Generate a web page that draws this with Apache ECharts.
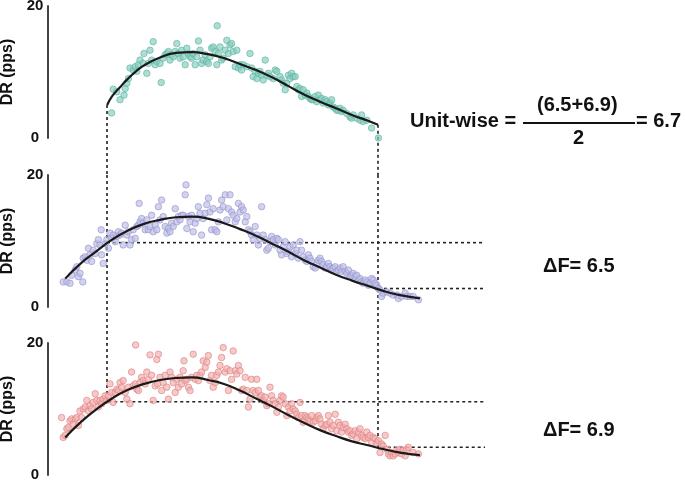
<!DOCTYPE html>
<html>
<head>
<meta charset="utf-8">
<script src="https://cdn.jsdelivr.net/npm/echarts@6/dist/echarts.min.js"></script>
<style>
  html, body { margin: 0; padding: 0; background: #fff; }
  #main { width: 685px; height: 484px; }
</style>
</head>
<body>
<div id="main"></div>
<script>
// discharge rate (pps) vs time, three panels: pooled unit (top), trial 1, trial 2
const dr1Points = [
  [15.9,3.8],[16.3,7.4],[17.2,7.0],[18.0,5.8],[19.0,6.5],[19.3,7.5],[19.7,8.3],[20.1,9.0],[20.5,10.6],[21.3,10.3],
  [21.8,10.8],[22.2,10.1],[22.6,11.1],[23.0,11.8],[23.8,11.3],[24.0,12.8],[24.7,9.8],[25.1,11.3],[25.5,13.3],[25.9,11.8],
  [26.3,14.6],[26.8,11.1],[27.2,11.6],[28.0,11.3],[28.3,8.4],[28.8,12.1],[29.3,12.6],[29.7,12.8],[30.1,13.1],[30.5,11.8],
  [30.9,12.6],[31.3,12.3],[31.8,13.1],[32.2,14.3],[32.6,12.8],[33.0,12.1],[33.4,13.3],[33.8,12.3],[34.3,11.1],[34.7,13.6],
  [35.1,12.8],[35.5,12.3],[35.9,12.1],[36.3,12.8],[36.8,11.1],[37.2,12.3],[37.6,14.7],[38.0,13.3],[38.4,11.3],[38.8,11.8],
  [39.3,12.6],[39.7,11.6],[40.1,11.3],[40.5,12.3],[40.9,13.6],[41.3,13.8],[41.8,13.1],[42.2,11.1],[42.3,17.0],[42.6,12.8],
  [43.0,13.8],[43.4,11.8],[43.8,12.1],[44.3,13.3],[44.7,14.8],[45.1,12.8],[45.5,14.1],[45.9,14.3],[46.3,13.1],[46.8,10.8],
  [47.2,13.3],[47.6,10.6],[48.0,11.1],[48.4,10.3],[48.8,11.1],[49.7,10.8],[50.5,12.8],[50.9,10.6],[51.3,9.3],[51.8,10.1],
  [52.2,9.0],[52.6,9.8],[53.0,10.1],[53.4,9.5],[53.8,8.8],[54.3,11.8],[54.7,9.5],[55.1,9.8],[55.5,9.3],[56.3,9.0],
  [56.8,10.3],[57.2,10.1],[58.0,9.3],[58.4,8.8],[58.8,8.3],[59.3,7.3],[59.7,8.3],[60.1,9.5],[60.5,9.0],[60.9,9.8],
  [61.3,9.3],[61.8,9.3],[62.2,7.8],[62.6,7.3],[63.0,7.5],[63.4,6.3],[63.8,7.3],[64.3,6.5],[64.7,6.8],[65.1,6.3],
  [65.5,6.0],[65.9,5.8],[66.3,5.8],[66.8,6.3],[67.2,5.5],[67.6,6.5],[68.0,5.8],[68.4,6.0],[68.8,5.3],[69.3,5.8],
  [69.7,5.5],[70.1,5.0],[70.5,5.3],[70.9,5.8],[71.3,4.7],[71.8,4.5],[72.2,4.2],[72.6,4.2],[73.0,4.5],[73.4,4.0],
  [73.8,4.2],[74.7,3.7],[75.5,3.2],[75.9,3.0],[76.3,3.5],[77.2,3.0],[78.0,2.7],[78.4,3.5],[78.8,2.5],[79.7,2.7],
  [80.9,1.5],[82.6,0.0]
];
const dr1Fit = [
  [14.8,5.0],[16,6.3],[18,7.7],[20,9.0],[22,10.1],[24,11.0],[28,12.2],[32,12.9],[36,13.0],[40,12.7],
  [44,12.1],[48,11.2],[52,10.3],[56,9.2],[60,7.9],[64,6.6],[68,5.5],[72,4.5],[76,3.5],[80,2.6],[82.5,2.0]
];

const dr2Points = [
  [3.8,3.8],[4.7,3.8],[5.5,3.6],[5.9,4.8],[6.8,5.6],[7.2,6.1],[7.6,4.6],[8.0,5.1],[8.7,3.8],[8.8,7.4],
  [9.3,7.6],[9.7,7.1],[10.1,8.9],[10.5,7.9],[10.9,6.9],[11.3,8.6],[11.8,8.1],[12.2,9.6],[12.6,10.2],[13.0,9.4],
  [13.3,11.7],[13.4,7.9],[13.8,6.6],[14.3,9.6],[14.7,10.2],[15.1,8.9],[15.5,11.2],[15.9,10.4],[16.3,10.9],[16.8,9.9],
  [17.2,10.7],[17.6,11.4],[18.0,10.9],[18.4,11.2],[18.8,9.4],[19.3,12.4],[19.7,10.9],[20.1,11.4],[20.5,9.4],[20.9,10.2],
  [21.3,11.7],[21.8,10.4],[22.2,12.2],[22.6,12.4],[22.8,15.7],[23.0,12.9],[23.4,13.4],[23.8,12.7],[24.3,11.7],[24.7,13.2],
  [25.1,11.7],[25.5,12.2],[25.9,13.9],[26.3,11.4],[26.8,12.4],[27.2,11.7],[27.6,15.2],[28.0,13.2],[28.4,16.2],[28.8,13.7],
  [29.3,12.2],[29.7,11.2],[30.1,11.9],[30.5,11.4],[30.9,12.7],[31.3,12.2],[31.8,14.9],[32.2,12.9],[32.6,13.7],[33.0,13.2],
  [33.4,13.9],[33.8,13.9],[34.3,17.0],[34.5,18.5],[34.7,11.9],[35.1,13.7],[35.5,12.9],[35.9,13.9],[36.3,11.4],[36.8,12.7],
  [37.2,13.4],[37.6,15.2],[38.0,14.2],[38.4,10.9],[38.8,13.4],[39.3,14.2],[39.7,15.5],[40.1,16.5],[40.5,14.4],[40.9,11.7],
  [41.3,14.9],[41.8,11.7],[42.2,11.4],[42.6,12.9],[43.0,14.7],[43.4,16.2],[43.8,15.2],[44.3,17.0],[44.7,13.2],[45.1,14.9],
  [45.5,17.0],[45.9,14.4],[46.3,13.9],[46.8,12.9],[47.2,13.4],[47.6,15.7],[48.0,14.4],[48.4,15.2],[48.8,14.7],[49.3,12.9],
  [49.7,13.7],[50.1,11.7],[50.5,11.4],[50.9,10.9],[51.3,10.2],[51.8,12.2],[52.2,10.9],[52.6,9.4],[53.0,10.4],[53.4,15.2],
  [53.8,10.9],[54.3,10.2],[54.7,8.6],[55.1,8.9],[55.5,9.9],[55.9,10.7],[56.3,10.2],[56.8,9.4],[57.2,10.4],[57.6,10.2],
  [58.0,8.6],[58.4,7.9],[58.8,9.1],[59.3,9.9],[59.7,8.1],[60.1,8.4],[60.5,9.1],[60.9,7.6],[61.3,9.4],[61.8,8.1],
  [62.2,8.6],[62.6,7.4],[63.0,9.9],[63.4,8.6],[63.8,7.6],[64.3,7.1],[64.7,6.9],[65.1,7.9],[65.5,7.4],[65.9,6.9],
  [66.3,6.1],[66.8,5.9],[67.2,6.6],[67.6,7.1],[68.0,7.4],[68.4,6.9],[68.8,6.4],[69.3,5.9],[69.7,6.1],[70.1,6.6],
  [70.5,6.1],[70.9,5.6],[71.3,5.9],[71.8,6.1],[72.2,5.4],[72.6,5.6],[73.0,5.9],[73.4,5.4],[73.8,6.1],[74.3,5.4],
  [74.7,5.1],[75.1,5.6],[75.5,4.6],[75.9,4.8],[76.3,5.1],[76.8,4.6],[77.2,4.8],[77.6,4.1],[78.0,4.3],[78.4,3.8],
  [78.8,3.6],[79.3,4.1],[79.7,3.8],[80.1,3.3],[80.5,3.6],[80.9,4.3],[81.3,4.1],[81.8,3.6],[82.2,3.3],[82.6,2.8],
  [83.0,2.6],[83.4,1.6],[83.8,2.1],[84.7,2.3],[85.5,2.1],[86.3,1.8],[87.2,1.8],[87.6,1.3],[88.4,1.6],[89.3,2.1],
  [89.7,1.6],[90.5,1.6],[91.3,1.6],[92.6,1.1]
];
const dr2Fit = [
  [4.3,4.3],[8,6.5],[12,8.4],[16,10.2],[20,11.6],[24,12.6],[28,13.2],[32,13.6],[36,13.7],[40,13.4],
  [44,12.7],[48,11.8],[52,10.8],[56,9.6],[60,8.4],[64,7.1],[68,6.0],[72,4.9],[76,4.0],[80,3.2],
  [84,2.4],[88,1.8],[93,1.3]
];

const dr3Points = [
  [3.4,8.7],[3.8,5.7],[4.3,6.0],[4.7,7.0],[5.1,7.2],[5.5,8.2],[5.9,8.5],[6.3,7.7],[6.8,8.5],[7.2,8.7],
  [7.6,7.5],[8.0,9.7],[8.4,8.7],[8.8,10.0],[9.3,10.3],[9.7,11.3],[10.1,9.7],[10.5,10.5],[10.9,10.0],[11.3,11.0],
  [11.8,12.3],[12.2,11.3],[12.6,10.3],[13.0,11.3],[13.4,10.8],[13.8,11.5],[14.3,12.0],[14.7,11.3],[15.1,12.0],[15.5,13.8],
  [15.9,12.5],[16.3,11.0],[16.8,12.5],[17.2,13.0],[17.6,12.8],[18.0,14.0],[18.4,13.3],[18.8,14.3],[19.3,12.5],[19.7,11.5],
  [20.1,13.3],[20.5,10.8],[20.9,15.6],[21.3,13.5],[21.8,13.8],[21.9,19.7],[22.2,13.0],[22.6,12.8],[23.0,14.0],[23.4,14.8],
  [23.8,14.3],[24.3,13.8],[24.7,15.6],[25.1,14.5],[25.5,18.2],[25.9,15.1],[26.3,11.3],[26.8,13.5],[27.2,17.5],[27.4,13.8],
  [27.6,18.3],[28.0,14.8],[28.4,12.8],[28.8,14.0],[29.3,15.1],[29.7,13.3],[30.1,11.5],[30.5,15.6],[30.9,14.8],[31.3,14.0],
  [31.8,12.5],[32.2,14.5],[32.6,13.3],[33.0,14.8],[33.4,13.8],[33.8,15.8],[34.0,17.3],[34.3,14.3],[34.7,14.5],[35.1,13.3],
  [35.5,12.8],[35.9,14.8],[36.3,18.3],[36.8,14.5],[37.2,15.1],[37.6,14.3],[38.0,15.1],[38.4,15.6],[38.8,17.3],[39.3,16.3],
  [39.7,17.1],[40.1,18.1],[40.5,14.3],[40.9,15.1],[41.3,13.3],[41.8,14.0],[42.2,15.1],[42.6,15.6],[43.0,16.6],[43.4,17.8],
  [43.8,19.3],[44.3,15.6],[44.7,16.1],[45.1,12.8],[45.5,15.8],[45.9,14.5],[46.3,18.8],[46.8,15.8],[47.2,15.3],[47.6,16.6],
  [48.0,15.8],[48.4,12.8],[48.8,13.0],[49.3,14.8],[49.7,12.8],[50.1,10.3],[50.5,11.5],[50.9,14.5],[51.3,12.8],[51.8,12.5],
  [52.2,14.5],[52.6,12.8],[53.0,11.8],[53.4,12.0],[53.8,11.3],[54.3,11.8],[54.7,10.5],[55.1,10.8],[55.5,13.3],[55.9,12.0],
  [56.3,11.3],[56.8,10.8],[57.2,9.5],[57.6,10.3],[58.0,11.3],[58.4,12.0],[58.8,11.8],[59.3,10.8],[59.7,9.0],[60.1,10.3],
  [60.5,9.7],[60.9,10.8],[61.3,10.0],[61.8,9.7],[62.2,9.2],[62.6,8.7],[63.0,11.0],[63.4,9.0],[63.8,8.0],[64.3,9.0],
  [64.7,8.7],[65.1,8.5],[65.5,8.2],[65.9,9.0],[66.3,8.0],[66.8,8.2],[67.2,8.7],[67.6,9.0],[68.0,8.5],[68.4,7.7],
  [68.8,7.0],[69.3,7.5],[69.7,7.7],[70.1,9.0],[70.5,8.0],[70.9,7.0],[71.3,7.5],[71.8,9.2],[72.2,6.7],[72.6,8.0],
  [73.0,7.5],[73.4,6.5],[73.8,7.2],[74.3,7.7],[74.7,7.0],[75.1,6.5],[75.5,6.7],[75.9,6.0],[76.3,6.2],[76.8,6.7],
  [77.2,5.5],[77.6,6.5],[78.0,7.0],[78.4,6.0],[78.8,5.7],[79.3,5.5],[79.7,6.5],[80.1,5.7],[80.5,6.0],[80.9,4.9],
  [81.3,5.7],[81.8,5.5],[82.2,4.9],[82.6,5.2],[83.0,3.4],[83.4,4.7],[83.8,4.4],[84.3,6.0],[84.7,3.9],[85.1,3.2],
  [85.5,2.9],[85.9,3.4],[86.3,2.9],[86.8,3.2],[87.2,3.7],[87.6,3.4],[88.0,3.9],[88.4,3.2],[88.8,3.7],[89.3,2.9],
  [89.7,3.9],[90.1,4.2],[91.3,3.4],[92.6,3.2]
];
const dr3Fit = [
  [4.3,5.7],[8,7.9],[12,9.9],[16,11.6],[20,12.9],[24,13.8],[28,14.4],[32,14.7],[36,14.8],[40,14.4],
  [44,13.8],[48,12.8],[52,11.6],[56,10.4],[60,9.1],[64,7.9],[68,6.8],[72,5.9],[76,5.1],[80,4.5],
  [84,3.9],[88,3.4],[93,3.0]
];

// recruitment / derecruitment times and the rates read at them
const recruitT = 14.75;
const derecruitT = 82.5;
const dr1AtRecruit = 5.0, dr1AtDerecruit = 2.0;
const dr2AtRecruit = 9.75, dr2AtDerecruit = 2.8;
const dr3AtRecruit = 11.1, dr3AtDerecruit = 4.2;
const xEnd = 109.25;   // right end of the dotted guides
const gapBelow = -5.6; // dotted guides run on through the gap under a panel

const yTicks = [0, 20];
const panelColors = [
  { fill: 'rgba(135,205,190,0.85)', border: '#5fb3a2' },
  { fill: 'rgba(190,190,232,0.85)', border: '#9393cc' },
  { fill: 'rgba(244,178,178,0.85)', border: '#dc8080' }
];

const chart = echarts.init(document.getElementById('main'));

const tops = [6, 175, 343];
const grids = tops.map(t => ({ left: 48, top: t, width: 440, height: 132, outerBoundsMode: 'none', containLabel: false }));
const xAxes = tops.map((t, i) => ({ type: 'value', gridIndex: i, min: 0, max: 110, show: false }));
const yAxes = tops.map((t, i) => ({
  type: 'value', gridIndex: i, min: yTicks[0], max: yTicks[1], interval: 20,
  name: 'DR (pps)', nameLocation: 'middle', nameGap: 30,
  nameTextStyle: { fontFamily: 'Liberation Sans', fontWeight: 'bold', fontSize: 16, color: '#111' },
  axisLine: { show: true, lineStyle: { color: '#444', width: 2 } },
  axisTick: { show: false },
  splitLine: { show: false },
  axisLabel: { fontFamily: 'Liberation Sans', fontWeight: 'bold', fontSize: 15, color: '#111', margin: 13, align: 'center' }
}));

const dotted = { color: '#222', width: 1.6, type: [3, 3] };
function guide(i, pts) {
  return {
    type: 'line', xAxisIndex: i, yAxisIndex: i, data: pts, symbol: 'none',
    clip: false, silent: true, lineStyle: dotted, z: 1
  };
}
function scatter(i, pts) {
  return {
    type: 'scatter', xAxisIndex: i, yAxisIndex: i, data: pts, symbolSize: 6.5,
    itemStyle: { color: panelColors[i].fill, borderColor: panelColors[i].border, borderWidth: 0.8 }, z: 2
  };
}
function fit(i, pts) {
  return {
    type: 'line', xAxisIndex: i, yAxisIndex: i, data: pts, symbol: 'none', smooth: true,
    lineStyle: { color: '#1a1a1a', width: 2.2 }, z: 3
  };
}

const series = [
  guide(0, [[recruitT, dr1AtRecruit], [recruitT, gapBelow]]),
  guide(0, [[derecruitT, dr1AtDerecruit], [derecruitT, gapBelow]]),
  guide(1, [[recruitT, 20], [recruitT, gapBelow]]),
  guide(1, [[derecruitT, 20], [derecruitT, gapBelow]]),
  guide(1, [[recruitT, dr2AtRecruit], [xEnd, dr2AtRecruit]]),
  guide(1, [[derecruitT, dr2AtDerecruit], [xEnd, dr2AtDerecruit]]),
  guide(2, [[recruitT, 20], [recruitT, dr3AtRecruit], [xEnd, dr3AtRecruit]]),
  guide(2, [[derecruitT, 20], [derecruitT, dr3AtDerecruit], [xEnd, dr3AtDerecruit]]),
  scatter(0, dr1Points), scatter(1, dr2Points), scatter(2, dr3Points),
  fit(0, dr1Fit), fit(1, dr2Fit), fit(2, dr3Fit)
];

const txt = { fontFamily: 'Liberation Sans', fontWeight: 'bold', fontSize: 20, fill: '#111' };

chart.setOption({
  animation: false,
  backgroundColor: '#fff',
  grid: grids,
  xAxis: xAxes,
  yAxis: yAxes,
  series: series,
  graphic: [
    { type: 'text', left: 410, top: 111, style: Object.assign({ text: 'Unit-wise =' }, txt) },
    { type: 'text', left: 537, top: 95, style: Object.assign({ text: '(6.5+6.9)' }, txt) },
    { type: 'line', shape: { x1: 523, y1: 123, x2: 635, y2: 123 }, style: { stroke: '#111', lineWidth: 2 } },
    { type: 'text', left: 573, top: 128, style: Object.assign({ text: '2' }, txt) },
    { type: 'text', left: 636, top: 111, style: Object.assign({ text: '= 6.7' }, txt) },
    { type: 'text', left: 543, top: 256, style: Object.assign({ text: 'ΔF= 6.5' }, txt) },
    { type: 'text', left: 543, top: 420, style: Object.assign({ text: 'ΔF= 6.9' }, txt) }
  ]
});
</script>
</body>
</html>
